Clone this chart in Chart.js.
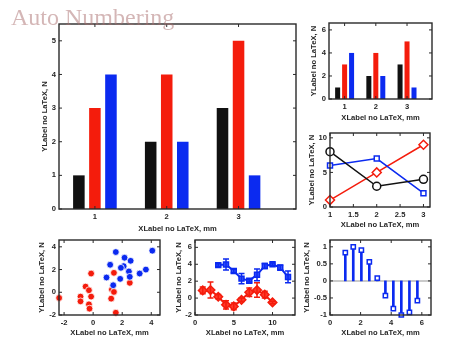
<!DOCTYPE html>
<html>
<head>
<meta charset="utf-8">
<script src="https://cdn.jsdelivr.net/npm/chart.js@4"></script>
<style>
  html, body { margin: 0; padding: 0; background: #fff; }
  body { position: relative; width: 474px; height: 353px; overflow: hidden; }
  canvas { position: absolute; }
  #title {
    position: absolute; left: 11px; top: 5px; z-index: 5;
    font: 24px "Liberation Serif", serif; line-height: 1;
    color: rgba(170, 110, 110, 0.5); white-space: nowrap;
  }
</style>
</head>
<body>
<div id="title">Auto Numbering</div>
<canvas id="bigBar"></canvas>
<canvas id="smallBar"></canvas>
<canvas id="lines"></canvas>
<canvas id="scatter"></canvas>
<canvas id="errors"></canvas>
<canvas id="stem"></canvas>
<script>
// bar charts (same data in both)
var barX = [1, 2, 3];
var barBlack = [1, 2, 3];
var barRed = [3, 4, 5];
var barBlue = [4, 2, 1];
var bigBarYTicks = [0, 1, 2, 3, 4, 5];
var smallBarYTicks = [0, 2, 4, 6];

// line chart
var lineX = [1, 2, 3];
var lineBlack = [8, 3, 4];
var lineBlue = [6, 7, 2];
var lineRed = [1, 5, 9];
var lineXTicks = [1, 1.5, 2, 2.5, 3];
var lineYTicks = [0, 5, 10];

// scatter
var scatBlueX = [1.56, 2.16, 2.58, 1.17, 2.1, 1.91, 2.46, 3.63, 3.2, 2.52, 1.86, 0.92, 1.38, 4.07];
var scatBlueY = [3.54, 3.04, 2.77, 2.42, 2.3, 2.15, 1.83, 2.0, 1.65, 1.36, 1.18, 1.3, 0.62, 3.66];
var scatRedX = [-0.14, 1.43, 2.52, -0.52, -0.29, 1.29, 1.43, -0.87, -0.14, -0.87, -0.29, -0.25, 1.24, -2.34, 1.56];
var scatRedY = [1.65, 1.71, 0.83, 0.5, 0.18, 0.24, 0.03, -0.38, -0.38, -0.8, -1.06, -1.44, -0.56, -0.5, -1.8];
var scatXTicks = [-2, 0, 2, 4];
var scatYTicks = [-2, 0, 2, 4];

// error bar chart
var errBlueX = [3, 4, 5, 6, 7, 8, 9, 10, 11, 12];
var errBlueY = [3.9, 3.98, 3.2, 2.3, 2.06, 2.75, 3.8, 4.0, 3.6, 2.5];
var errBlueE = [0.15, 0.65, 0.2, 0.6, 0.15, 0.7, 0.3, 0.15, 0.3, 0.7];
var errRedX = [1, 2, 3, 4, 5, 6, 7, 8, 9, 10];
var errRedY = [0.9, 0.95, 0.16, -0.8, -0.99, -0.2, 0.68, 0.95, 0.4, -0.51];
var errRedE = [0.4, 0.95, 0.25, 0.5, 0.4, 0.2, 0.5, 0.85, 0.4, 0.15];
var errXTicks = [0, 5, 10];
var errYTicks = [-2, 0, 2, 4, 6];

// stem chart
var stemX = [1, 1.52, 2.05, 2.57, 3.09, 3.62, 4.14, 4.66, 5.19, 5.71];
var stemY = [0.83, 1.0, 0.9, 0.56, 0.08, -0.43, -0.81, -1.0, -0.92, -0.58];
var stemXTicks = [0, 2, 4, 6];
var stemYTicks = [-1, -0.5, 0, 0.5, 1];

var XLABEL = "XLabel no LaTeX, mm";
var YLABEL = "YLabel no LaTeX, N";
var BLACK = "#111111";
var RED = "#f41c0c";
var BLUE = "#0b2af0";
var FS = 7.6;

Chart.defaults.font.family = "'Liberation Sans', Arial, sans-serif";
Chart.defaults.font.size = FS;
Chart.defaults.font.weight = "bold";
Chart.defaults.color = "#262626";

// axes box with inward ticks
var frame = {
  id: "frame",
  afterDatasetsDraw: function (chart) {
    var ctx = chart.ctx, a = chart.chartArea, x = chart.scales.x, y = chart.scales.y;
    ctx.save();
    ctx.strokeStyle = "#2a2a2a";
    ctx.lineWidth = 1;
    ctx.beginPath();
    x.ticks.forEach(function (t) {
      var p = x.getPixelForValue(t.value);
      ctx.moveTo(p, a.bottom); ctx.lineTo(p, a.bottom - 3);
      ctx.moveTo(p, a.top); ctx.lineTo(p, a.top + 3);
    });
    y.ticks.forEach(function (t) {
      var p = y.getPixelForValue(t.value);
      ctx.moveTo(a.left, p); ctx.lineTo(a.left + 3, p);
      ctx.moveTo(a.right, p); ctx.lineTo(a.right - 3, p);
    });
    ctx.stroke();
    ctx.lineWidth = 1.4;
    ctx.strokeRect(a.left, a.top, a.right - a.left, a.bottom - a.top);
    ctx.restore();
  }
};
Chart.register(frame);

function axis(min, max, ticks, title) {
  return {
    type: "linear", min: min, max: max, offset: false,
    grid: { display: false, drawTicks: false, offset: false },
    border: { display: false },
    afterBuildTicks: function (s) { s.ticks = ticks.map(function (v) { return { value: v }; }); },
    ticks: { padding: 3, autoSkip: false, maxRotation: 0, callback: function (v) { return String(v); } },
    title: { display: true, text: title, padding: 0 }
  };
}

function panel(id, box, yTitleX, xTitleY, cfg) {
  var lh = FS * 1.2;
  var cl = Math.round(yTitleX - lh / 2), ct = box[1] - 8;
  var cr = box[2] + 10, cb = Math.round(xTitleY + lh / 2);
  var cv = document.getElementById(id);
  cv.width = cr - cl; cv.height = cb - ct;
  cv.style.left = cl + "px"; cv.style.top = ct + "px";
  var L = box[0] - cl, B = cb - box[3];
  cfg.options.scales.y.afterFit = function (s) { s.width = L; };
  cfg.options.scales.x.afterFit = function (s) { s.height = B; };
  cfg.options.layout = { padding: { top: 8, right: 10, left: 0, bottom: 0 } };
  cfg.options.responsive = false;
  cfg.options.animation = false;
  cfg.options.plugins = Object.assign({ legend: { display: false }, tooltip: { enabled: false } }, cfg.options.plugins || {});
  return new Chart(cv, cfg);
}

function pts(xs, ys) {
  return xs.map(function (x, i) { return { x: x, y: ys[i] }; });
}

function barDatasets() {
  return [barBlack, barRed, barBlue].map(function (vals, k) {
    return {
      data: pts(barX, vals),
      backgroundColor: [BLACK, RED, BLUE][k],
      categoryPercentage: 0.67, barPercentage: 0.72
    };
  });
}

panel("bigBar", [59, 24, 296, 209], 45, 228, {
  type: "bar",
  data: { datasets: barDatasets() },
  options: { scales: { x: axis(0.5, 3.8, barX, XLABEL), y: axis(0, 5.5, bigBarYTicks, YLABEL) } }
});

panel("smallBar", [329, 23, 432, 99], 314, 117, {
  type: "bar",
  data: { datasets: barDatasets() },
  options: { scales: { x: axis(0.5, 3.8, barX, XLABEL), y: axis(0, 6.6, smallBarYTicks, YLABEL) } }
});

function lineSet(ys, color, style, r) {
  return {
    data: pts(lineX, ys), borderColor: color, borderWidth: 1.5,
    pointStyle: style, pointRadius: r, pointBorderWidth: 1.5,
    pointBorderColor: color, pointBackgroundColor: "#fff", clip: false
  };
}

panel("lines", [330, 133, 430, 207], 312, 224, {
  type: "line",
  data: { datasets: [
    lineSet(lineBlack, BLACK, "circle", 4),
    lineSet(lineBlue, BLUE, "rect", 3.5),
    lineSet(lineRed, RED, "rectRot", 4.5)
  ] },
  options: { scales: { x: axis(1, 3.14, lineXTicks, XLABEL), y: axis(0, 10.7, lineYTicks, YLABEL) } }
});

panel("scatter", [59, 240, 160, 315], 42, 332, {
  type: "scatter",
  data: { datasets: [
    { data: pts(scatBlueX, scatBlueY), pointRadius: 3.4, pointBackgroundColor: BLUE, pointBorderColor: "#fff", pointBorderWidth: 0.8, clip: false },
    { data: pts(scatRedX, scatRedY), pointRadius: 3.4, pointBackgroundColor: RED, pointBorderColor: "#fff", pointBorderWidth: 0.8, clip: false }
  ] },
  options: { scales: { x: axis(-2.35, 4.6, scatXTicks, XLABEL), y: axis(-2, 4.6, scatYTicks, YLABEL) } }
});

var errorBars = {
  id: "errorBars",
  afterDatasetsDraw: function (chart) {
    var ctx = chart.ctx, x = chart.scales.x, y = chart.scales.y;
    chart.data.datasets.forEach(function (ds) {
      if (!ds.errors) return;
      ctx.save();
      ctx.strokeStyle = ds.borderColor;
      ctx.lineWidth = 1.5;
      ctx.beginPath();
      ds.data.forEach(function (p, i) {
        var px = x.getPixelForValue(p.x);
        var y1 = y.getPixelForValue(p.y - ds.errors[i]);
        var y2 = y.getPixelForValue(p.y + ds.errors[i]);
        ctx.moveTo(px, y1); ctx.lineTo(px, y2);
        ctx.moveTo(px - 3, y1); ctx.lineTo(px + 3, y1);
        ctx.moveTo(px - 3, y2); ctx.lineTo(px + 3, y2);
      });
      ctx.stroke();
      ctx.restore();
    });
  }
};

panel("errors", [195, 240, 295, 315], 179, 332, {
  type: "line",
  data: { datasets: [
    { data: pts(errBlueX, errBlueY), errors: errBlueE, borderColor: BLUE, borderWidth: 2,
      pointStyle: "rect", pointRadius: 3.5, pointBorderWidth: 1.5, pointBackgroundColor: "#3350ff", pointBorderColor: BLUE },
    { data: pts(errRedX, errRedY), errors: errRedE, borderColor: RED, borderWidth: 2,
      pointStyle: "rectRot", pointRadius: 4.3, pointBorderWidth: 1.5, pointBackgroundColor: "#ff3a2a", pointBorderColor: RED }
  ] },
  options: { scales: { x: axis(0, 12.9, errXTicks, XLABEL), y: axis(-2, 6.87, errYTicks, YLABEL) } },
  plugins: [errorBars]
});

var zeroLine = {
  id: "zeroLine",
  beforeDatasetsDraw: function (chart) {
    var ctx = chart.ctx, a = chart.chartArea, y0 = chart.scales.y.getPixelForValue(0);
    ctx.save();
    ctx.strokeStyle = "#b8b8b8";
    ctx.lineWidth = 1.5;
    ctx.beginPath(); ctx.moveTo(a.left, y0); ctx.lineTo(a.right, y0); ctx.stroke();
    ctx.restore();
  }
};

panel("stem", [330, 240, 431, 315], 307, 332, {
  type: "bar",
  data: { datasets: [
    { type: "line", data: pts(stemX, stemY), showLine: false, pointStyle: "rect", pointRadius: 3,
      pointBorderWidth: 1.5, pointBorderColor: BLUE, pointBackgroundColor: "#fff", clip: false },
    { type: "bar", data: stemX.map(function (x, i) { return { x: x, y: [0, stemY[i]] }; }),
      backgroundColor: BLUE, barThickness: 2 }
  ] },
  options: { scales: { x: axis(0, 6.6, stemXTicks, XLABEL), y: axis(-1, 1.2, stemYTicks, YLABEL) } },
  plugins: [zeroLine]
});
</script>
</body>
</html>
